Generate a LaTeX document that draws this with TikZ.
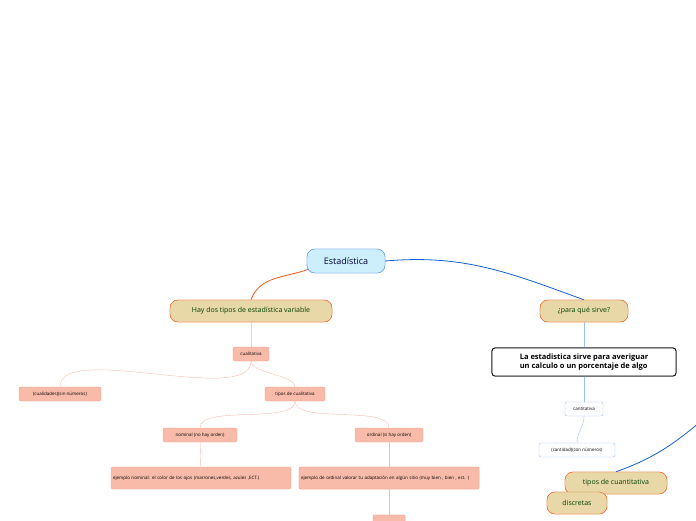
\documentclass[tikz,border=0pt]{standalone}
\usepackage{fontspec}
\setmainfont{Open Sans}
\usetikzlibrary{positioning}
\definecolor{mainblue}{HTML}{CDEFFC}
\definecolor{topicfill}{HTML}{E8D8A8}
\definecolor{topicline}{HTML}{F25A1E}
\definecolor{subfill}{HTML}{F8BBA9}
\definecolor{subline}{HTML}{F4A08A}
\definecolor{linkblue}{HTML}{1060D8}
\definecolor{paleblue}{HTML}{9CC0F0}
\begin{document}
\begin{tikzpicture}[x=1pt,y=-1pt]
  \tikzset{central/.style = {shape=rectangle,rounded corners=8pt,draw=linkblue!70,fill=mainblue,minimum width=78pt,minimum height=24pt,font=\fontsize{9}{10}\selectfont\color{black!80!blue}}}
  \tikzset{topic/.style = {shape=rectangle,rounded corners=8pt,draw=topicline,fill=topicfill,minimum height=22pt,font=\fontsize{7}{8}\selectfont\color{green!25!black}}}
  \tikzset{sub/.style = {shape=rectangle,rounded corners=2pt,draw=subline,fill=subfill,minimum height=14pt,inner sep=2pt,font=\fontsize{4.5}{5.5}\selectfont}}
  \tikzset{bluesub/.style = {shape=rectangle,rounded corners=2pt,draw=paleblue,fill=white,minimum height=14pt,inner sep=2pt,font=\fontsize{4.5}{5.5}\selectfont}}
  \tikzset{orangeline/.style = {draw=subline!70,thin}}
  \useasboundingbox (0,0) rectangle (696,520);

	\node[central] (E) at (346,261) {Estadística};
	\node[topic,minimum width=162pt] (H) at (251,311) {Hay dos tipos de estadística variable};
	\node[topic,minimum width=88pt] (P) at (584,311) {¿para qué sirve?};
	\node[draw=black,thick,rounded corners=3pt,fill=white,align=left,minimum width=184pt,minimum height=28pt,font=\fontsize{7.5}{9}\selectfont\bfseries] (L) at (584,362) {La estadistica sirve para averiguar\\un calculo o un porcentaje de algo};

	\node[sub,minimum width=36pt] (CL) at (251,354) {cualitativa};
	\node[sub,minimum width=82pt] (CS) at (60,394) {(cualidades)(sin números)};
	\node[sub,minimum width=60pt] (TC) at (295,394) {tipos de cualitativa};
	\node[sub,minimum width=74pt] (NO) at (200,435) {nominal (no hay orden)};
	\node[sub,minimum width=68pt] (OR) at (389,435) {ordinal (si hay orden)};
	\node[sub,text width=176pt,minimum height=22pt,align=left] (EN) at (201,478) {ejemplo nominal: el color de los ojos (marrones,verdes, azules ,ECT.)};
	\node[sub,text width=176pt,minimum height=22pt,align=left] (EO) at (389,478) {ejemplo de ordinal valorar tu adaptación en algún sitio (muy bien , bien , ect. )};
	\node[sub,minimum width=32pt] (X) at (389,522) {};

	\node[bluesub,minimum width=38pt] (CA) at (584,409) {cantitativa};
	\node[bluesub,minimum width=76pt] (CN) at (577,450) {(cantidad)(con números)};
	\node[topic,minimum width=102pt] (TQ) at (616,483) {tipos de cuantitativa};
	\node[topic,minimum width=60pt] (D) at (577,503) {discretas};
	\coordinate (off) at (700,422);

    \draw[topicline,thick] (E.south west) ++(2,-4) to[out=200,in=70] (H.north);
    \draw[linkblue,thick] (E.east) to[out=5,in=160] (P.north);
    \draw[linkblue,thick] (TQ.north) to[out=20,in=220] (off);

    \foreach \from/\to in {H/CL, TC/NO, TC/OR, CL/CS, CL/TC}
    \draw[orangeline] (\from.south) to[out=-90,in=90,looseness=0.6] (\to.north);
    \foreach \from/\to in {NO/EN, OR/EO, EO/X}
    \draw[orangeline] (\from) -- (\to);
    \foreach \from/\to in {P/L, L/CA}
    \draw[paleblue] (\from) -- (\to);
    \draw[paleblue] (CA.south) to[out=-90,in=90] (CN.north);
    \node[topic,minimum width=102pt] at (TQ) {tipos de cuantitativa};
    \node[topic,minimum width=60pt] at (D) {discretas};
    \node[draw=black,thick,rounded corners=3pt,fill=white,align=left,minimum width=184pt,minimum height=28pt,font=\fontsize{7.5}{9}\selectfont\bfseries] at (L) {La estadistica sirve para averiguar\\un calculo o un porcentaje de algo};
    \node[central] at (E) {Estadística};
    \node[topic,minimum width=162pt] at (H) {Hay dos tipos de estadística variable};
    \node[topic,minimum width=88pt] at (P) {¿para qué sirve?};
    \node[sub,text width=176pt,minimum height=22pt,align=left] at (EO) {ejemplo de ordinal valorar tu adaptación en algún sitio (muy bien , bien , ect. )};
    \node[sub,minimum width=32pt] at (X) {};
\end{tikzpicture}
\end{document}
